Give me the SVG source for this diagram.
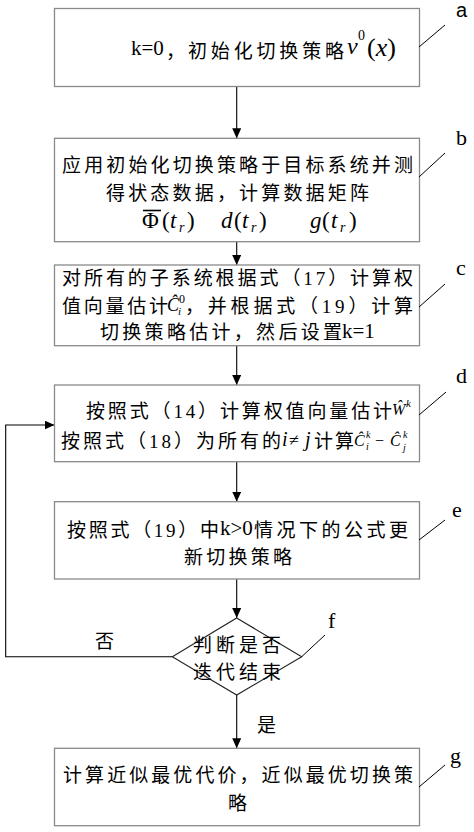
<svg xmlns="http://www.w3.org/2000/svg" width="474" height="832" viewBox="0 0 474 832">
<style>
.box{fill:#fff;stroke:#8a8a8a;stroke-width:1.3}
.dia{fill:#fff;stroke:#222;stroke-width:1.1}
.cn{font-family:"Liberation Serif","Noto Sans CJK SC",serif;font-size:19px;fill:#000}
.lt{font-family:"Liberation Serif","Noto Sans CJK SC",serif;font-size:21px;fill:#000}
.it{font-family:"Liberation Serif",serif;font-style:italic;fill:#000}
.rm{font-family:"Liberation Serif",serif;fill:#000}
.lab{font-family:"Liberation Serif",serif;font-size:22px;fill:#000}
.labs{font-family:"Liberation Sans",sans-serif;font-size:20px;fill:#000}
.lead{stroke:#000;stroke-width:1;fill:none}
.con{stroke:#000;stroke-width:1.1;fill:none}
</style>
<defs>
<marker id="ah" markerUnits="userSpaceOnUse" markerWidth="10" markerHeight="10" refX="10" refY="4.5" orient="auto">
<path d="M0,0 L10,4.5 L0,9 z" fill="#000"/>
</marker>
</defs>

<g id="connectors">
<path class="con" d="M236.7,86.7 V138.3" marker-end="url(#ah)"/>
<path class="con" d="M236.7,241.7 V265" marker-end="url(#ah)"/>
<path class="con" d="M236.7,345.7 V385" marker-end="url(#ah)"/>
<path class="con" d="M236.7,461.7 V501.7" marker-end="url(#ah)"/>
<path class="con" d="M236.7,579 V618" marker-end="url(#ah)"/>
<path class="con" d="M236.7,695 V748.3" marker-end="url(#ah)"/>
<path class="con" d="M172.3,656.7 H5.7 V425 H54.5" marker-end="url(#ah)"/>
<text class="cn" x="95" y="648">否</text>
<text class="cn" x="257" y="732">是</text>
</g>

<g id="node-a">
<rect class="box" x="54.5" y="8.5" width="365" height="78"/>
<text class="lt" x="131" y="55">k=0</text>
<text class="cn" x="166" y="58">，</text>
<text class="cn" x="188" y="58" textLength="156" lengthAdjust="spacing">初始化切换策略</text>
<text class="it" x="347" y="54" font-size="24">v</text>
<text class="rm" x="358" y="40" font-size="14">0</text>
<text class="rm" x="367" y="56" font-size="26">(<tspan class="it">x</tspan>)</text>
<path class="lead" d="M419,47 L445,25"/>
<text class="labs" x="456" y="17">a</text>
</g>

<g id="node-b">
<rect class="box" x="54.5" y="138.3" width="365" height="103.4"/>
<text class="cn" x="62" y="172" textLength="351" lengthAdjust="spacing">应用初始化切换策略于目标系统并测</text>
<text class="cn" x="106" y="200" textLength="263" lengthAdjust="spacing">得状态数据，计算数据矩阵</text>
<line x1="143" y1="210.5" x2="161" y2="210.5" stroke="#000" stroke-width="1.6"/>
<text class="rm" x="142" y="228" font-size="23">Φ</text>
<text class="rm" x="162" y="228" font-size="23">(</text>
<text class="it" x="170" y="228" font-size="23">t</text>
<text class="it" x="179" y="232" font-size="14">r</text>
<text class="rm" x="187" y="228" font-size="23">)</text>
<text class="it" x="221" y="228" font-size="23">d</text>
<text class="rm" x="234" y="228" font-size="23">(</text>
<text class="it" x="242" y="228" font-size="23">t</text>
<text class="it" x="251" y="232" font-size="14">r</text>
<text class="rm" x="259" y="228" font-size="23">)</text>
<text class="it" x="310" y="228" font-size="23">g</text>
<text class="rm" x="322" y="228" font-size="23">(</text>
<text class="it" x="331" y="228" font-size="23">t</text>
<text class="it" x="340" y="232" font-size="14">r</text>
<text class="rm" x="349" y="228" font-size="23">)</text>
<path class="lead" d="M419,177 L445,153"/>
<text class="lab" x="456" y="145">b</text>
</g>

<g id="node-c">
<rect class="box" x="54.5" y="265" width="365" height="80.7"/>
<text class="cn" x="62" y="285" textLength="351" lengthAdjust="spacing">对所有的子系统根据式（17）计算权</text>
<text class="cn" x="62" y="312.5" textLength="106" lengthAdjust="spacing">值向量估计</text>
<text class="it" x="167" y="311" font-size="18">Ĉ</text>
<text class="it" x="178" y="315" font-size="11">i</text>
<text class="rm" x="179" y="303" font-size="12">0</text>
<text class="cn" x="185" y="312.5" textLength="228" lengthAdjust="spacing">，并根据式（19）计算</text>
<text class="cn" x="100" y="339" textLength="242" lengthAdjust="spacing">切换策略估计，然后设置</text>
<text class="lt" x="342" y="338">k=1</text>
<path class="lead" d="M419,307 L445,284"/>
<text class="lab" x="456" y="275">c</text>
</g>

<g id="node-d">
<rect class="box" x="54.5" y="385" width="365" height="76.7"/>
<text class="cn" x="86" y="418" textLength="306" lengthAdjust="spacing">按照式（14）计算权值向量估计</text>
<text class="it" x="392" y="415" font-size="16">Ŵ</text>
<text class="it" x="406" y="407" font-size="11">k</text>
<text class="cn" x="61" y="448" textLength="220" lengthAdjust="spacing">按照式（18）为所有的</text>
<text class="it" x="282" y="446" font-size="20">i</text>
<text class="rm" x="289" y="446" font-size="18">≠</text>
<text class="it" x="305" y="446" font-size="20">j</text>
<text class="cn" x="314" y="448" textLength="40" lengthAdjust="spacing">计算</text>
<text class="it" x="354" y="446" font-size="16">Ĉ</text>
<text class="it" x="366" y="450" font-size="10">i</text>
<text class="it" x="366" y="438" font-size="10">k</text>
<text class="rm" x="375" y="446" font-size="16">−</text>
<text class="it" x="390" y="446" font-size="16">Ĉ</text>
<text class="it" x="403" y="451" font-size="10">j</text>
<text class="it" x="403" y="438" font-size="10">k</text>
<path class="lead" d="M419,415 L446,392"/>
<text class="lab" x="456" y="383">d</text>
</g>

<g id="node-e">
<rect class="box" x="54.5" y="501.7" width="365" height="77.3"/>
<text class="cn" x="67" y="537" textLength="152" lengthAdjust="spacing">按照式（19）中</text>
<text class="lt" x="220" y="535" font-size="20">k&gt;0</text>
<text class="cn" x="254" y="537" textLength="154" lengthAdjust="spacing">情况下的公式更</text>
<text class="cn" x="184" y="564" textLength="108" lengthAdjust="spacing">新切换策略</text>
<path class="lead" d="M419,540 L445,520"/>
<text class="lab" x="452" y="517">e</text>
</g>

<g id="node-f">
<polygon class="dia" points="236.7,618 301.7,656.7 236.7,695 172.3,656.7"/>
<text class="cn" x="193" y="651.5" textLength="88" lengthAdjust="spacing">判断是否</text>
<text class="cn" x="193" y="678.5" textLength="88" lengthAdjust="spacing">迭代结束</text>
<path class="lead" d="M301.7,656.7 L325,635"/>
<text class="lab" x="328" y="628">f</text>
</g>

<g id="node-g">
<rect class="box" x="54.5" y="748.3" width="365" height="77.4"/>
<text class="cn" x="63" y="782" textLength="350" lengthAdjust="spacing">计算近似最优代价，近似最优切换策</text>
<text class="cn" x="228" y="810">略</text>
<path class="lead" d="M419,787 L445,765"/>
<text class="lab" x="450" y="763">g</text>
</g>
</svg>
